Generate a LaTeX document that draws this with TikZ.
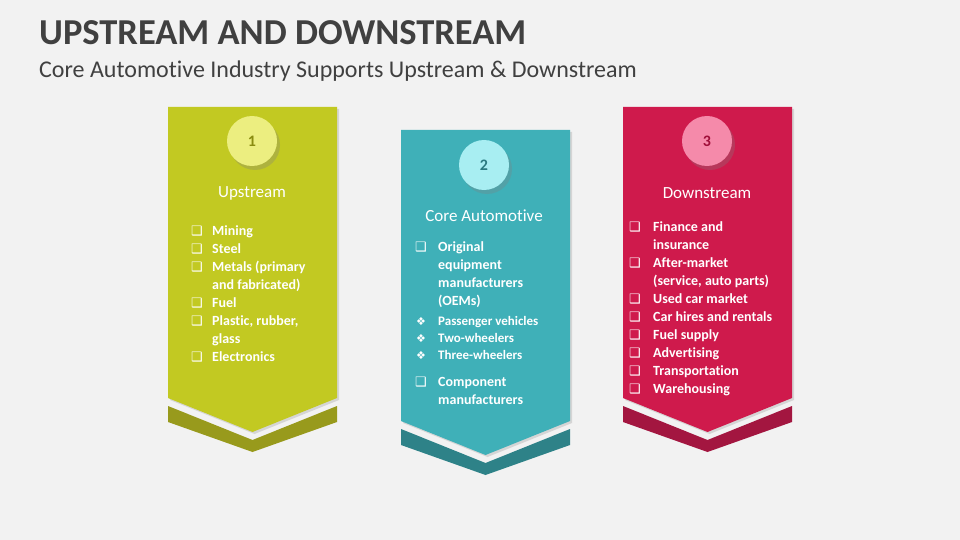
\documentclass[tikz,border=0pt]{standalone}
\usepackage{fontspec}
\setmainfont[Ligatures=NoCommon]{Carlito}
\newfontfamily\dv{DejaVu Sans}
\usetikzlibrary{shadows}
\definecolor{bg}{HTML}{F2F2F2}
\definecolor{ttl}{HTML}{404040}
\definecolor{gA}{HTML}{C2C922}\definecolor{gB}{HTML}{989A1C}\definecolor{gC}{HTML}{ECEE80}\definecolor{gT}{HTML}{8A8C10}
\definecolor{tA}{HTML}{3FB0B8}\definecolor{tB}{HTML}{2E8288}\definecolor{tC}{HTML}{A8EEF2}\definecolor{tT}{HTML}{2A7A80}
\definecolor{rA}{HTML}{CF1A4C}\definecolor{rB}{HTML}{A31640}\definecolor{rC}{HTML}{F58AAA}\definecolor{rT}{HTML}{A0103A}
\tikzset{
 it/.style={anchor=base west,text=white,font=\fontsize{14}{15}\selectfont\bfseries,inner sep=0},
 bx/.style={anchor=base west,text=white,font=\dv\fontsize{13}{14}\selectfont,inner sep=0},
 hd/.style={text=white,font=\fontsize{17}{19}\selectfont,inner sep=0},
 num/.style={circle,minimum size=50pt,inner sep=0,font=\fontsize{16}{18}\selectfont\bfseries,drop shadow={shadow xshift=3pt,shadow yshift=-4pt,opacity=0.3}},
}
\begin{document}
\begin{tikzpicture}[x=1pt,y=-1pt]
\fill[bg] (0,0) rectangle (960,540);
\useasboundingbox (0,0) rectangle (960,540);
\node[anchor=base west,inner sep=0,text=ttl,font=\fontsize{36.5}{38}\selectfont\bfseries] (title) at (39,45) {UPSTREAM AND DOWNSTREAM};
\node[anchor=base west,inner sep=0,text=ttl,font=\fontsize{24}{26}\selectfont] (sub) at (39,78) {Core Automotive Industry Supports Upstream \& Downstream};
% panels
\foreach \x/\y/\A/\B in {168/107/gA/gB, 401/130/tA/tB, 623/107/rA/rB}{
 \fill[\B] (\x,\y+299) -- (\x+84.5,\y+333) -- (\x+169,\y+299) -- (\x+169,\y+315) -- (\x+84.5,\y+345) -- (\x,\y+315) -- cycle;
 \fill[\A,drop shadow={shadow xshift=2pt,shadow yshift=-2pt,opacity=0.25}] (\x,\y) -- (\x+169,\y) -- (\x+169,\y+291) -- (\x+84.5,\y+325) -- (\x,\y+291) -- cycle;
}
\node[num,fill=gC,text=gT] (n1) at (252,141) {1};
\node[num,fill=tC,text=tT] (n2) at (484,165) {2};
\node[num,fill=rC,text=rT] (n3) at (707,141) {3};
\node[hd] (h1) at (252,193) {Upstream};
\node[hd] (h2) at (484,216) {Core Automotive};
\node[hd] (h3) at (707,193) {Downstream};
% list 1
\foreach \t/\b [count=\i] in {Mining/1,Steel/1,Metals (primary/1,and fabricated)/0,Fuel/1,{Plastic, rubber,}/1,glass/0,Electronics/1}{
 \node[it] (a\i) at (212,217+18*\i) {\t};
 \ifnum\b=1 \node[bx] (ab\i) at (191,217+18*\i) {❑};\fi
}
% list 2
\foreach \t/\b/\yy [count=\i] in {Original/1/251,equipment/0/269,manufacturers/0/287,(OEMs)/0/305,Passenger vehicles/2/325,Two-wheelers/2/342,Three-wheelers/2/359,Component/1/386,manufacturers/0/404}{
 \ifnum\b=2 \node[it,font=\fontsize{13}{14}\selectfont\bfseries] (c\i) at (438,\yy) {\t};
 \node[bx,font=\dv\fontsize{11}{12}\selectfont] (cb\i) at (416,\yy) {❖};
 \else \node[it] (c\i) at (438,\yy) {\t};\fi
 \ifnum\b=1 \node[bx] (cb\i) at (415,\yy) {❑};\fi
}
% list 3
\foreach \t/\b [count=\i] in {Finance and/1,insurance/0,After-market/1,{(service, auto parts)}/0,Used car market/1,Car hires and rentals/1,Fuel supply/1,Advertising/1,Transportation/1,Warehousing/1}{
 \node[it] (d\i) at (653,213+18*\i) {\t};
 \ifnum\b=1 \node[bx] (db\i) at (629,213+18*\i) {❑};\fi
}
\end{tikzpicture}
\end{document}
